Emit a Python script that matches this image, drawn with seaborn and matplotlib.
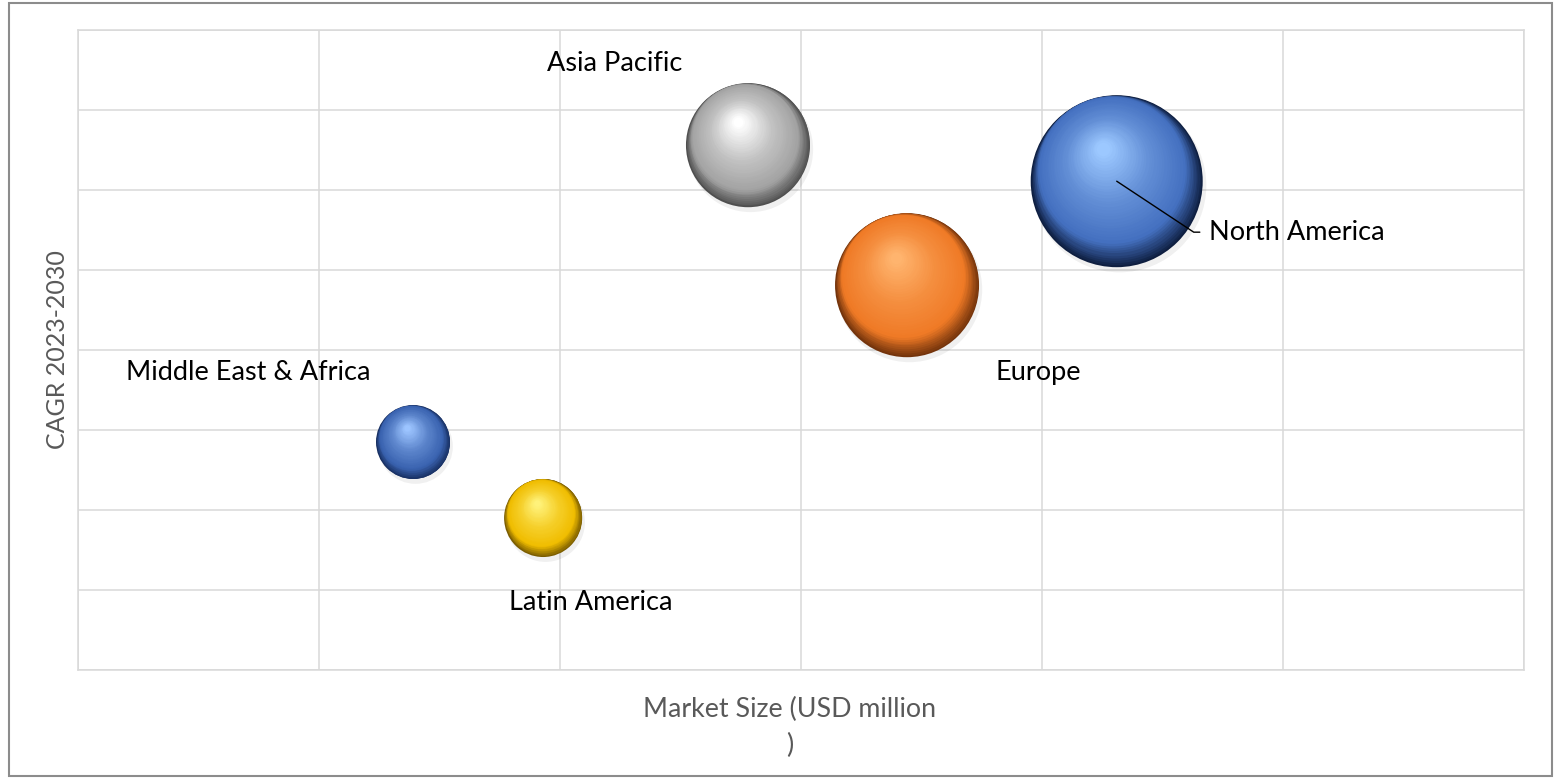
"""
Bubble chart: regional market size vs CAGR 2023-2030
"""

import matplotlib

matplotlib.use("Agg")
import matplotlib.pyplot as plt
import numpy as np
import pandas as pd
import seaborn as sns
from matplotlib.colors import LinearSegmentedColormap, to_rgb
from matplotlib.patches import Rectangle
from matplotlib.transforms import offset_copy

REGIONS = ["Middle East & Africa", "Latin America", "Asia Pacific", "Europe", "North America"]
MARKET_SIZE = [1.39, 1.93, 2.78, 3.44, 4.31]
CAGR = [2.85, 1.90, 6.56, 4.81, 6.11]
BUBBLE_VALUE = [18.5, 20.6, 52.0, 70.1, 100.0]

MAX_AREA = 15336  # pt^2 of the largest bubble
N_LAYERS = 40

# colours: rim, body, highlight; label offset in points
STYLE = {
    "Middle East & Africa": {"dark": "#172e60", "base": "#3a63b0", "light": "#9cc4ff", "off": (-118.8, 50.4)},
    "Latin America": {"dark": "#7a5c00", "base": "#f0bd00", "light": "#fff27a", "off": (34.6, -61.2)},
    "Asia Pacific": {"dark": "#4f4f4f", "base": "#a3a3a3", "light": "#ffffff", "off": (-95.8, 59.0)},
    "Europe": {"dark": "#74340c", "base": "#ef7a26", "light": "#ffb46e", "off": (94.3, -62.6)},
    "North America": {"dark": "#0e1e40", "base": "#4470c0", "light": "#9cc8ff", "off": (66.2, -36.7)},
}

DIR = np.array([-0.388, 0.922])  # direction of the highlight
PHASE1 = 0.14


def sphere_cmap(st):
    body = np.array(to_rgb(st["base"]))
    light = np.array(to_rgb(st["light"]))
    mid = body * 0.65 + light * 0.35
    return LinearSegmentedColormap.from_list(
        "s", [(0.0, st["dark"]), (0.25, st["base"]), (0.6, tuple(mid)), (1.0, st["light"])]
    )


def layer_geometry(t):
    """radius fraction and centre offset (in radii) of a shading layer"""
    if t <= 0.25:
        u = PHASE1 * t / 0.25
        return 1 - u, u
    v = (t - 0.25) / 0.75
    f = (1 - PHASE1) + v * (0.08 - (1 - PHASE1))
    off = PHASE1 + v * (0.41 - PHASE1)
    return f, off


def main():
    df = pd.DataFrame(
        {"region": REGIONS, "market": MARKET_SIZE, "cagr": CAGR, "value": BUBBLE_VALUE}
    )

    sns.set_theme(style="white")
    plt.rcParams["font.family"] = ["Lato", "DejaVu Sans"]

    fig = plt.figure(figsize=(15.58, 7.82), dpi=100)
    ax = fig.add_axes([78 / 1558, 112 / 782, 1446 / 1558, 640 / 782])

    # soft shadow
    for _, row in df.iterrows():
        s = row["value"] / 100 * MAX_AREA
        ax.scatter(
            row["market"], row["cagr"], s=s * 1.02, color="black", alpha=0.06, lw=0,
            zorder=2, transform=offset_copy(ax.transData, fig, x=1.5, y=-3, units="points"),
        )

    sns.scatterplot(
        data=df, x="market", y="cagr", hue="region", size="value",
        palette={r: STYLE[r]["dark"] for r in REGIONS},
        sizes=(0, MAX_AREA), size_norm=(0, 100), linewidth=0, legend=False,
        ax=ax, zorder=3,
    )

    # shading layers toward the highlight
    for _, row in df.iterrows():
        st = STYLE[row["region"]]
        cmap = sphere_cmap(st)
        s = row["value"] / 100 * MAX_AREA
        r = np.sqrt(s) / 2
        for k in range(1, N_LAYERS):
            t = k / (N_LAYERS - 1)
            f, off = layer_geometry(t)
            tr = offset_copy(ax.transData, fig, x=DIR[0] * off * r, y=DIR[1] * off * r,
                             units="points")
            ax.scatter(
                row["market"], row["cagr"], s=s * f * f, color=cmap(t), lw=0,
                zorder=3 + t, transform=tr,
            )

    for _, row in df.iterrows():
        st = STYLE[row["region"]]
        kw = {}
        ha = "center"
        if row["region"] == "North America":
            ha = "left"
            kw["arrowprops"] = dict(
                arrowstyle="-", color="black", lw=1.0, shrinkA=4, shrinkB=0,
                relpos=(0, 0.5), connectionstyle="angle,angleA=180,angleB=-33.5,rad=0",
            )
        ax.annotate(
            row["region"], (row["market"], row["cagr"]), xytext=st["off"],
            textcoords="offset points", ha=ha, va="center", fontsize=19.5,
            color="black", zorder=6, **kw,
        )

    ax.set_xlim(0, 6)
    ax.set_ylim(0, 8)
    ax.set_xticks(range(7))
    ax.set_yticks(range(9))
    ax.set_xticklabels([])
    ax.set_yticklabels([])
    ax.tick_params(length=0)
    ax.grid(True, color="#d9d9d9", lw=1.1)
    ax.set_axisbelow(True)
    for sp in ax.spines.values():
        sp.set_color("#d9d9d9")
        sp.set_linewidth(1.1)

    ax.set_xlabel("Market Size (USD million\n)", fontsize=19.3, color="#595959", linespacing=1.55)
    ax.xaxis.set_label_coords(0.4924, -0.042)
    ax.set_ylabel("CAGR 2023-2030", fontsize=18, color="#595959")
    ax.yaxis.set_label_coords(-0.006, 0.5)

    fig.patches.append(
        Rectangle((9 / 1558, 6 / 782), 1543 / 1558, 773 / 782, transform=fig.transFigure,
                  fill=False, edgecolor="#8c8c8c", lw=1.5)
    )

    fig.savefig("out.png", dpi=100)


if __name__ == "__main__":
    main()
